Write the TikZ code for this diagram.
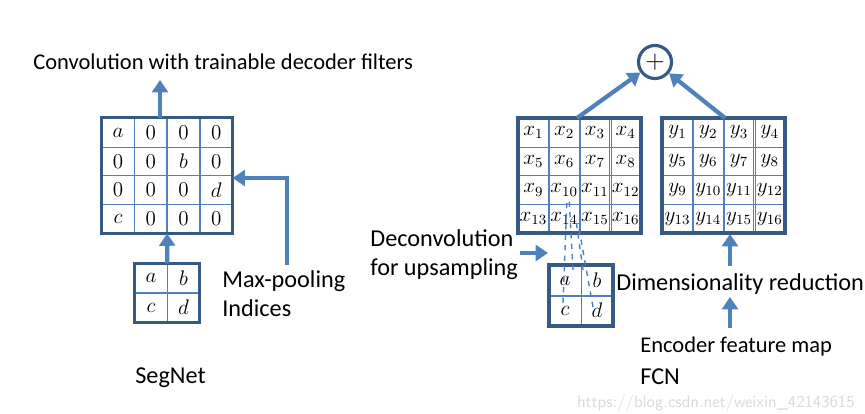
\documentclass[tikz,border=0pt]{standalone}
\usepackage{fontspec}
\setmainfont{Carlito}
\usetikzlibrary{arrows.meta,positioning}
\definecolor{netblue}{RGB}{79,129,189}
\tikzset{
  cell/.style={draw=netblue,thin,minimum width=0.64cm,minimum height=0.575cm,inner sep=0pt,font=\large},
  frame/.style={draw=netblue!70!black,line width=1.8pt},
  flow/.style={-{Triangle[length=7pt,width=9pt]},line width=2.4pt,draw=netblue},
  lbl/.style={font=\fontsize{12.8}{15}\selectfont,inner sep=0pt},
  big/.style={font=\fontsize{13.8}{16.5}\selectfont,inner sep=0pt,align=left}
}
\begin{document}
\begin{tikzpicture}[x=0.02cm,y=-0.02cm]
   \useasboundingbox (0,0) rectangle (865,413);
   % SegNet 4x4
   \foreach \t [count=\i from 0] in {a,0,0,0,0,0,b,0,0,0,0,d,c,0,0,0}{
     \pgfmathtruncatemacro{\r}{int(\i/4)}
     \pgfmathtruncatemacro{\c}{mod(\i,4)}
     \node[cell] (s-\r-\c) at ({118+32.75*\c},{132.5+28.75*\r}) {$\t$};
   }
   \draw[frame] (s-0-0.north west) rectangle (s-3-3.south east);
   % SegNet 2x2
   \foreach \t [count=\i from 0] in {a,b,c,d}{
     \pgfmathtruncatemacro{\r}{int(\i/2)}
     \pgfmathtruncatemacro{\c}{mod(\i,2)}
     \node[cell] (p-\r-\c) at ({151+32.5*\c},{278+29.5*\r}) {$\t$};
   }
   \draw[frame] (p-0-0.north west) rectangle (p-1-1.south east);
   \node[lbl,anchor=west] (conv) at (33,62) {Convolution with trainable decoder filters};
   \coordinate (st) at (160,118);
   \coordinate (sout) at (160,80);
   \draw[flow] (st) -- (sout);
   \draw[flow] (p-0-0.north east) -- (s-3-1.south east);
   \coordinate (mp) at (287,265);
   \coordinate (mpc) at (287,178);
   \draw[flow] (mp) -- (mpc) -- (s-1-3.south east |- mpc);
   \node[big,anchor=north west] (idx) at (222,270) {Max-pooling\\Indices};
   \node[big,anchor=west] (segnet) at (135,378) {SegNet};
   % FCN x and y grids
   \foreach \i in {0,...,15}{
     \pgfmathtruncatemacro{\r}{int(\i/4)}
     \pgfmathtruncatemacro{\c}{mod(\i,4)}
     \pgfmathtruncatemacro{\n}{\i+1}
     \node[cell] (x-\r-\c) at ({533.5+30.75*\c},{132.5+28.75*\r}) {$x_{\n}$};
     \node[cell] (y-\r-\c) at ({677.5+30.75*\c},{132.5+28.75*\r}) {$y_{\n}$};
   }
   \draw[frame] (518,118) rectangle (641,233);
   \draw[frame] (662,118) rectangle (785,233);
   % FCN 2x2
   \foreach \t [count=\i from 0] in {a,b,c,d}{
     \pgfmathtruncatemacro{\r}{int(\i/2)}
     \pgfmathtruncatemacro{\c}{mod(\i,2)}
     \node[cell] (q-\r-\c) at ({565+32*\c},{280.5+30*\r}) {$\t$};
   }
   \draw[frame] (549,265) rectangle (613,326);
   \node[draw=netblue!70!black,line width=1.8pt,circle,minimum size=0.66cm,inner sep=0pt,font=\Large] (plus) at (655,62) {$+$};
   \draw[flow] (577,118) -- (plus);
   \draw[flow] (725,118) -- (plus);
   % dashed upsampling lines
   \draw[netblue,dashed,thick] (563,303) -- (567,198);
   \draw[netblue,dashed,thick] (573,270) -- (569,197);
   \draw[netblue,dashed,thick] (583,270) -- (576,220);
   \draw[netblue,dashed,thick] (593,307) -- (578,223);
   \node[big,anchor=north west] (deconv) at (370,229) {Deconvolution\\for upsampling};
   \coordinate (dst) at (520,253);
   \coordinate (den) at (548,253);
   \draw[flow] (dst) -- (den);
   \node[big,anchor=west] (dim) at (616,284) {Dimensionality reduction};
   \node[lbl,anchor=west] (enc) at (640,346) {Encoder feature map};
   \coordinate (d1) at (730,266);
   \coordinate (e1) at (730,328);
   \coordinate (e2) at (730,297);
   \draw[flow] (d1) -- (730,234);
   \draw[flow] (e1) -- (e2);
   \node[big,anchor=west] (fcn) at (640,377) {FCN};
   \node[font=\fontsize{9.5}{11}\selectfont\sffamily,text=black!15,anchor=east,inner sep=0pt] (wm) at (855,403) {https://blog.csdn.net/weixin\_42143615};
\end{tikzpicture}
\end{document}
